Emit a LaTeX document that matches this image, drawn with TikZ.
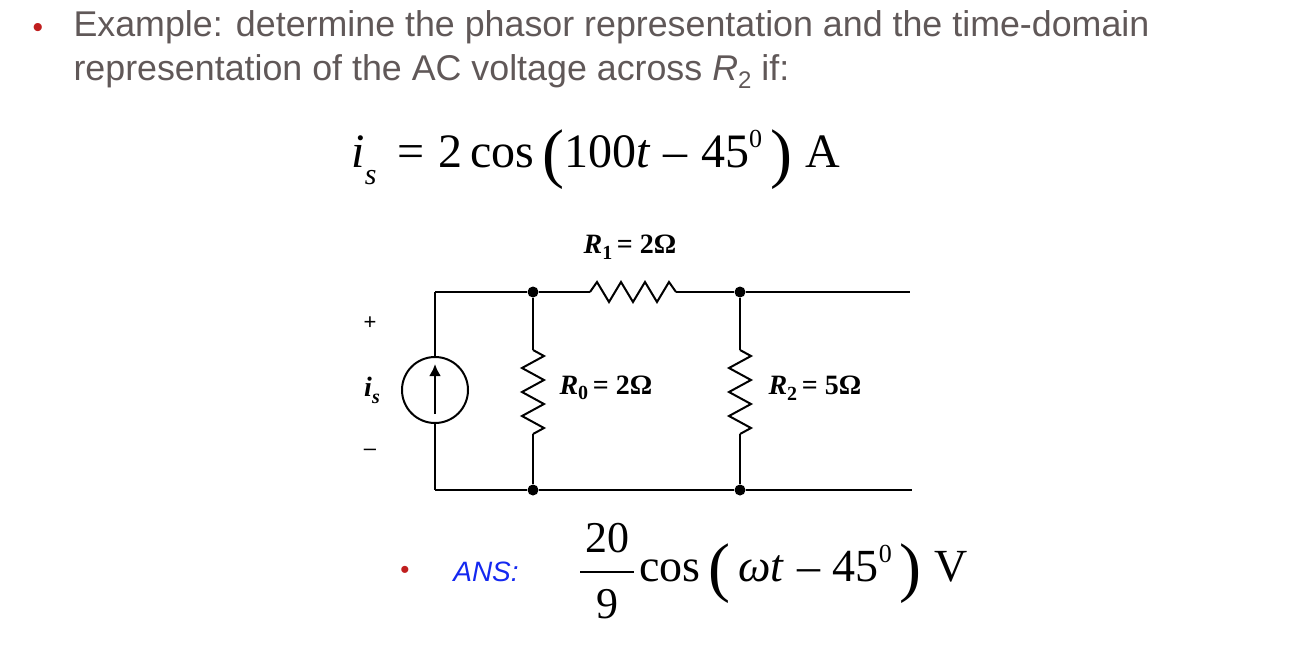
\documentclass[tikz,border=0pt]{standalone}
\usepackage{fontspec}
\setmainfont{Liberation Serif}
\newfontfamily\sff{Liberation Sans}
\usetikzlibrary{arrows.meta}
\newcommand{\bigp}[1]{{\fontsize{66}{66}\selectfont\raisebox{-0.12em}{#1}}}
\newcommand{\supz}{\raisebox{0.42em}{\fontsize{26}{26}\selectfont 0}}
\begin{document}
\begin{tikzpicture}[x=1pt,y=-1pt,
  wire/.style={line width=2.8pt},
  dot/.style={circle,fill=black,inner sep=0pt,minimum size=11pt},
  lab/.style={font=\fontsize{28}{30}\selectfont\bfseries},
  res/.style={line width=2pt}]
\definecolor{tgray}{RGB}{96,88,88}
\definecolor{bred}{RGB}{192,30,30}
\definecolor{ansblue}{RGB}{20,40,240}
\useasboundingbox (0,0) rectangle (1314,662);
\node[bred,font=\sff\fontsize{30}{30}\selectfont] (b1) at (38,30) {•};
\node[tgray,anchor=base west,font=\sff\fontsize{35.8}{40}\selectfont] (t1) at (70,36) {Example: determine the phasor representation and the time-domain};
\node[tgray,anchor=base west,font=\sff\fontsize{35.8}{40}\selectfont] (t2) at (70,80) {representation of the AC voltage across \textit{R}\raisebox{-0.25em}{\fontsize{24}{24}\selectfont 2} if:};
\node[font=\fontsize{48}{52}\selectfont,anchor=west] (eq) at (348,160) {\textit{i}\raisebox{-0.35em}{\fontsize{30}{30}\selectfont\textit{s}}\;\,=\;2\,cos\,\bigp{(}100\textit{t}\;–\;45\supz\,\bigp{)}\;A};
% nodes
\coordinate (tl) at (435,292); \coordinate (bl) at (435,490);
\node[dot] (n1) at (533,292) {}; \node[dot] (n2) at (740,292) {};
\node[dot] (n3) at (533,490) {}; \node[dot] (n4) at (740,490) {};
\coordinate (tr) at (910,292); \coordinate (br) at (912,490);
\node[circle,draw,line width=2pt,minimum size=66pt] (src) at (435,390) {};
\draw[wire] (tl) -- (n1) (n2) -- (tr) (bl) -- (n3) -- (n4) -- (br);
\draw[wire] (tl) -- (src.north) (src.south) -- (bl);
\draw[line width=2.8pt,-{Latex[length=12pt,width=12pt]}] (435,414) -- (435,364);
% R1
\draw[wire] (n1) -- (590,292);
\draw[res] (590,292) -- (597,282) -- (609,302) -- (621,282) -- (633,302) -- (645,282) -- (657,302) -- (669,282) -- (676,292);
\draw[wire] (676,292) -- (n2);
% R0
\draw[wire] (n1) -- (533,350);
\draw[res] (533,350) -- (544,356) -- (522,368) -- (544,380) -- (522,392) -- (544,404) -- (522,416) -- (544,428) -- (533,434);
\draw[wire] (533,434) -- (n3);
% R2
\draw[wire] (n2) -- (740,350);
\draw[res] (740,350) -- (751,356) -- (729,368) -- (751,380) -- (729,392) -- (751,404) -- (729,416) -- (751,428) -- (740,434);
\draw[wire] (740,434) -- (n4);
\node[lab] (l1) at (630,247) {\textit{R}\raisebox{-0.2em}{\fontsize{20}{20}\selectfont 1}\,= 2Ω};
\node[lab,anchor=west] (l0) at (556,388) {\textit{R}\raisebox{-0.2em}{\fontsize{20}{20}\selectfont 0}\,= 2Ω};
\node[lab,anchor=west] (l2) at (765,388) {\textit{R}\raisebox{-0.2em}{\fontsize{20}{20}\selectfont 2}\,= 5Ω};
\node[font=\sff\fontsize{22}{22}\selectfont] (pl) at (370,323) {+};
\node[lab] (is) at (372,390) {\textit{i}\raisebox{-0.25em}{\fontsize{20}{20}\selectfont\textit{s}}};
\node[font=\sff\fontsize{22}{22}\selectfont] (mi) at (370,452) {–};
\node[bred,font=\sff\fontsize{26}{26}\selectfont] (b2) at (405,572) {•};
\node[ansblue,font=\sff\itshape\fontsize{28}{30}\selectfont] (ans) at (486,572) {ANS:};
\node[font=\fontsize{44}{44}\selectfont,inner sep=0pt] (num) at (607,538) {20};
\node[font=\fontsize{44}{44}\selectfont,inner sep=0pt] (den) at (607,604) {9};
\draw[line width=1.6pt] (580,572) -- (634,572);
\node[font=\fontsize{46}{50}\selectfont,anchor=west] (res) at (636,574) {cos\,\bigp{(}\,\textit{ωt}\;–\;45\supz\,\bigp{)}\;V};
\end{tikzpicture}
\end{document}
